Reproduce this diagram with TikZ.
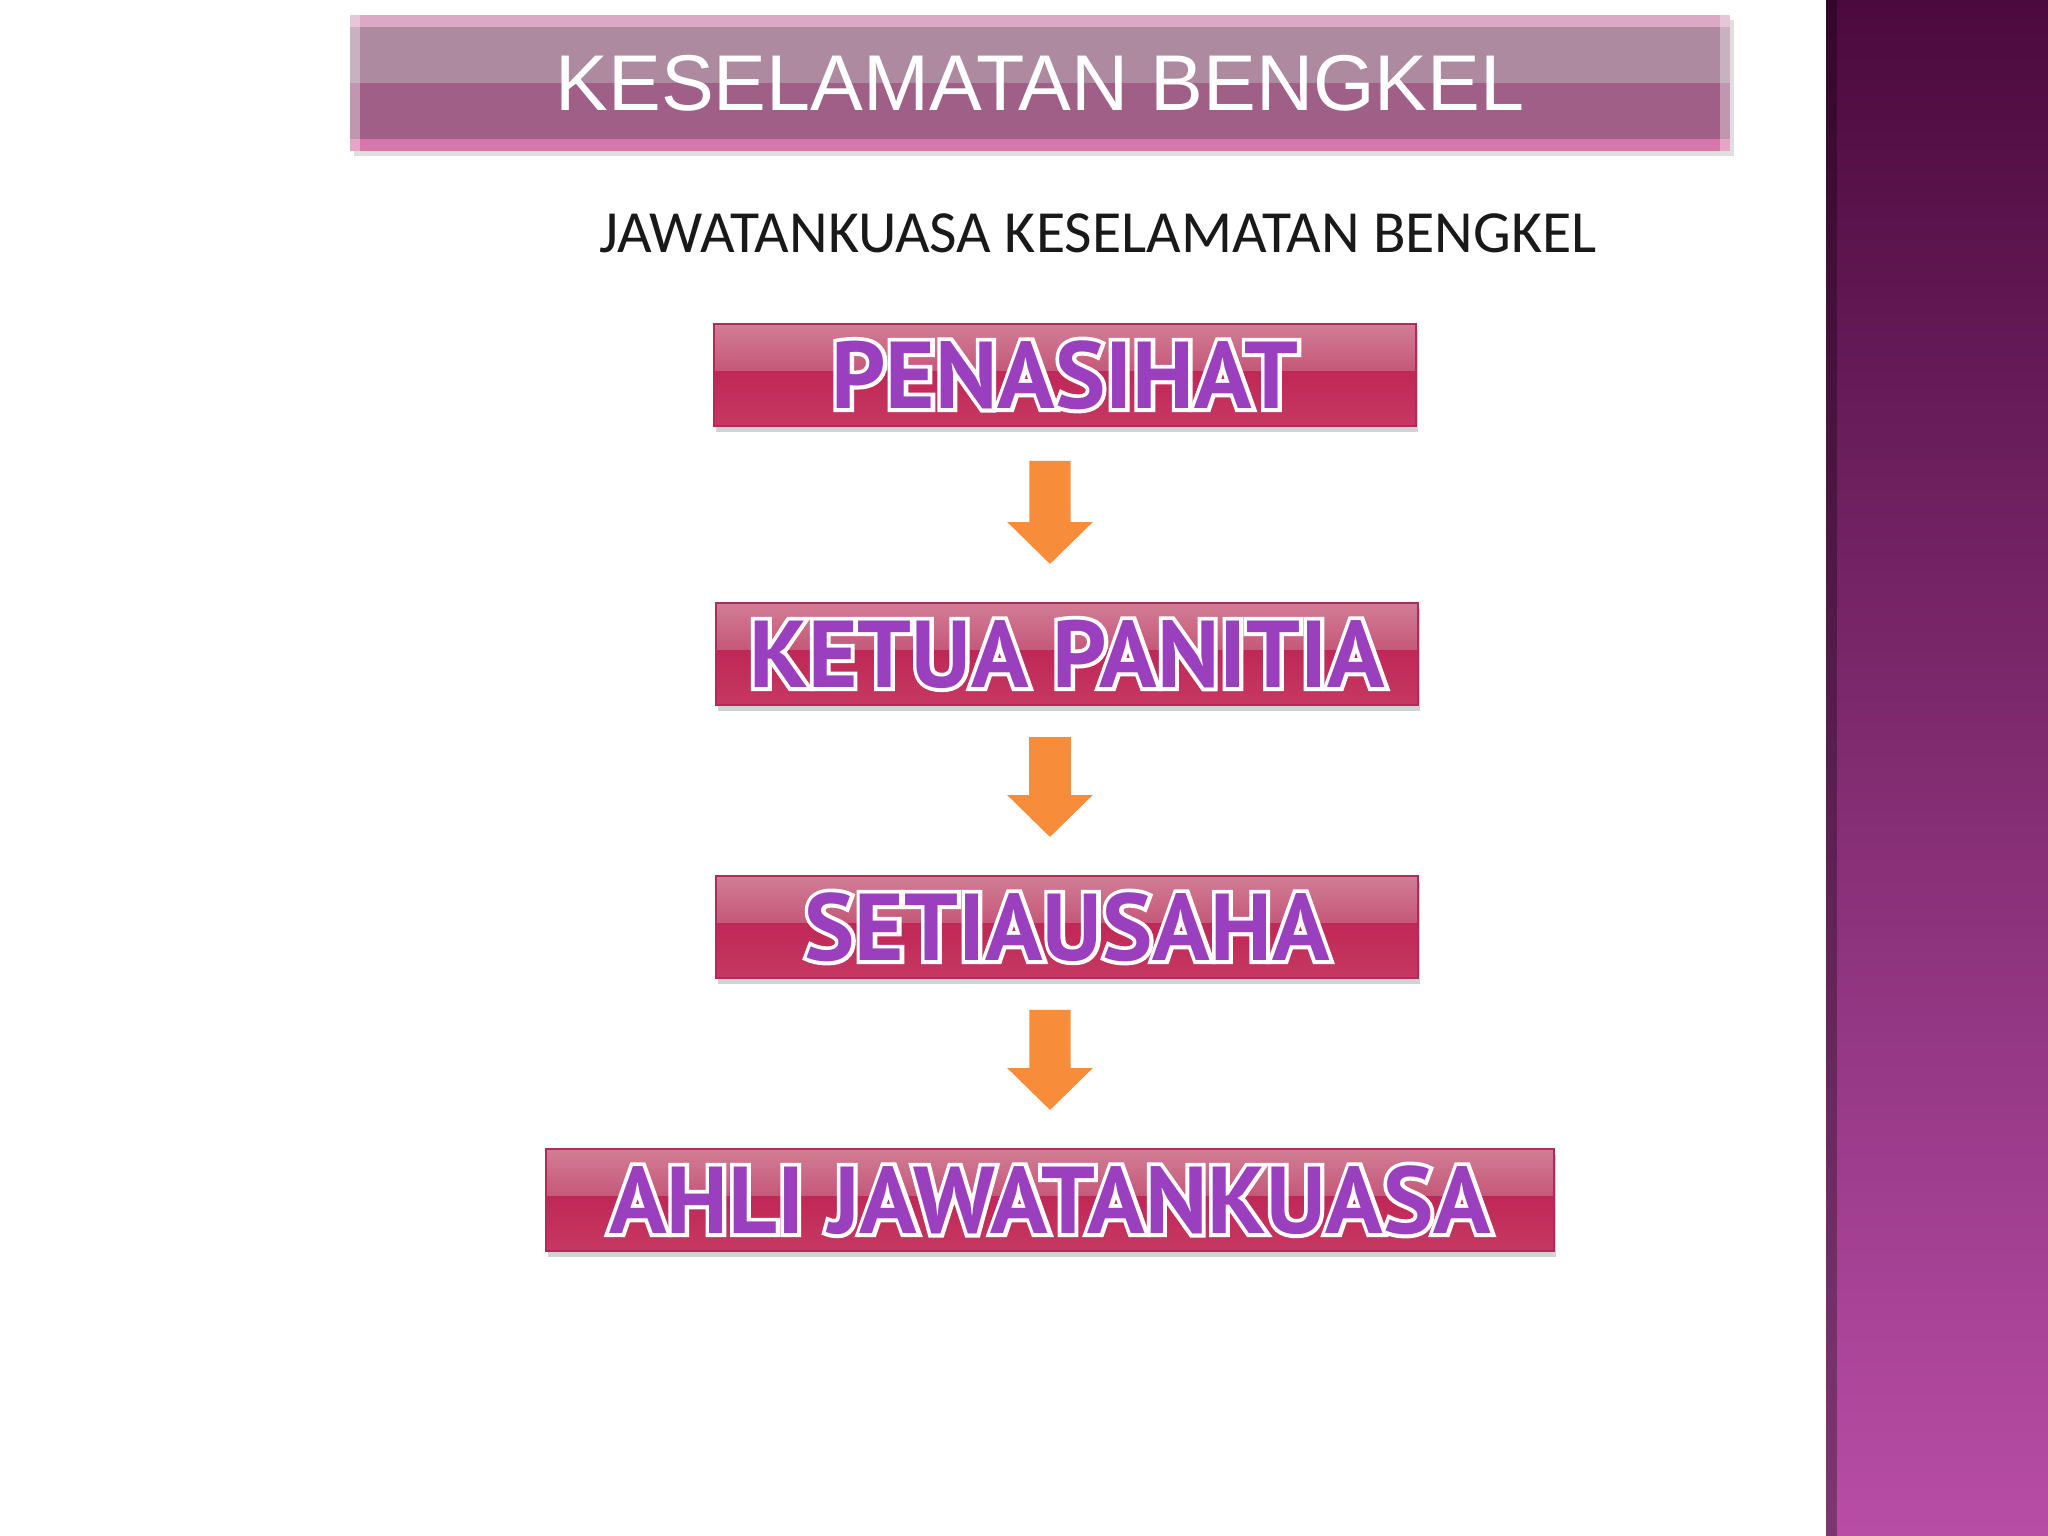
\documentclass[tikz,border=0pt]{standalone}
\usepackage{fontspec}
\usetikzlibrary{arrows.meta,shadows}

\setmainfont{Liberation Sans}
\newfontfamily\subfont{Carlito}
\newfontfamily\boxfont{PT Sans}

\definecolor{panetop}{HTML}{4B0A3D}
\definecolor{panemid}{HTML}{803070}
\definecolor{panebot}{HTML}{B84DA6}
\definecolor{barlight}{HTML}{DBA8C6}
\definecolor{barhigh}{HTML}{AD8A9F}
\definecolor{barlow}{HTML}{A05F87}
\definecolor{barpink}{HTML}{D676AA}
\definecolor{boxhightop}{HTML}{D27D95}
\definecolor{boxhighbot}{HTML}{C5587A}
\definecolor{boxlowtop}{HTML}{B8194B}
\definecolor{boxlowbot}{HTML}{C73863}
\definecolor{boxedge}{HTML}{B02A5A}
\definecolor{txtpurple}{HTML}{9A40BE}
\definecolor{arroworange}{HTML}{F78D3A}

% purple letters with a white rim
\newcommand{\jtext}[1]{\rlap{\special{pdf:literal direct 1 Tr 2.2 w 1 1 1 RG}#1\special{pdf:literal direct 0 Tr}}#1}

\tikzset{
    titlebar/.style={rectangle, minimum width=13.8cm, minimum height=1.35cm,
        text=white, font=\fontsize{22.5pt}{26pt}\selectfont,
        drop shadow={opacity=0.25, shadow xshift=0.04cm, shadow yshift=-0.05cm},
        path picture={
            \fill[barlow] (path picture bounding box.south west) rectangle (path picture bounding box.east);
            \fill[barhigh] (path picture bounding box.west) rectangle (path picture bounding box.north east);
            \fill[barlight] ([yshift=-0.12cm]path picture bounding box.north west) rectangle (path picture bounding box.north east);
            \fill[barpink] (path picture bounding box.south west) rectangle ([yshift=0.12cm]path picture bounding box.south east);
            \fill[white, opacity=0.35] (path picture bounding box.south west) rectangle ([xshift=0.1cm]path picture bounding box.north west);
            \fill[white, opacity=0.35] ([xshift=-0.1cm]path picture bounding box.south east) rectangle (path picture bounding box.north east);
        }},
    subtitle/.style={font=\subfont\fontsize{17pt}{21pt}\selectfont, text=black!90},
    jawatan/.style={rectangle, minimum height=1.02cm, draw=boxedge, line width=0.5pt,
        text=txtpurple, font=\boxfont\bfseries\fontsize{27pt}{32pt}\selectfont,
        drop shadow={opacity=0.35, shadow xshift=0.02cm, shadow yshift=-0.06cm},
        path picture={
            \shade[top color=boxlowtop, bottom color=boxlowbot] (path picture bounding box.south west) rectangle (path picture bounding box.north east);
            \shade[top color=boxhightop, bottom color=boxhighbot] ([yshift=-0.47cm]path picture bounding box.north west) rectangle (path picture bounding box.north east);
        }},
    flowarrow/.style={draw=arroworange, line width=0.41cm, -{Triangle[width=0.83cm, length=0.42cm]}}
}

\begin{document}
\begin{tikzpicture}[x=0.01cm, y=0.01cm]
    \useasboundingbox (0,0) rectangle (2048,1536);
    \fill[white] (0,0) rectangle (2048,1536);

    % side panel
    \shade[top color=panetop, middle color=panemid, bottom color=panebot] (1826,0) rectangle (2048,1536);
    \fill[black, opacity=0.3] (1826,0) rectangle (1837,1536);

    \node[titlebar] (judul) at (1040,1453) {\raisebox{-0.05cm}{KESELAMATAN BENGKEL}};
    \node[subtitle] (jks) at (1098,1303) {JAWATANKUASA KESELAMATAN BENGKEL};

    \node[jawatan, minimum width=7.02cm] (pen) at (1065,1161) {\jtext{PENASIHAT}};
    \node[jawatan, minimum width=7.02cm] (ketua) at (1067,882) {\jtext{KETUA PANITIA}};
    \node[jawatan, minimum width=7.02cm] (setia) at (1067,609) {\jtext{SETIAUSAHA}};
    \node[jawatan, minimum width=10.08cm] (ahli) at (1050,336) {\jtext{AHLI JAWATANKUASA}};

    \draw[flowarrow] ([xshift=-0.15cm, yshift=-0.34cm]pen.south) -- ([xshift=-0.17cm, yshift=0.38cm]ketua.north);
    \draw[flowarrow] ([xshift=-0.17cm, yshift=-0.31cm]ketua.south) -- ([xshift=-0.17cm, yshift=0.38cm]setia.north);
    \draw[flowarrow] ([xshift=-0.17cm, yshift=-0.31cm]setia.south) -- ([yshift=0.38cm]ahli.north);
\end{tikzpicture}
\end{document}
